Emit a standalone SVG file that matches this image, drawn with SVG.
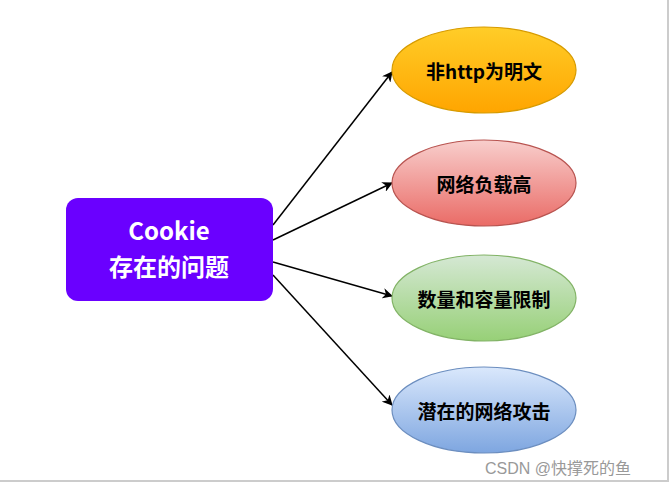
<svg xmlns="http://www.w3.org/2000/svg" width="672" height="485" viewBox="0 0 672 485">
<style>
.t{font-family:"Noto Sans CJK SC","Liberation Sans",sans-serif;font-weight:bold;font-size:19px;text-anchor:middle;dominant-baseline:central;fill:#000}
.c{font-family:"Noto Sans CJK SC","Liberation Sans",sans-serif;font-weight:bold;font-size:24px;text-anchor:middle;fill:#fff}
.e{stroke-width:1.2}
.a{stroke:#000;stroke-width:1.5;fill:none;marker-end:url(#ar)}
</style>
<defs>
<marker id="ar" viewBox="0 0 10 10" refX="9" refY="5" markerWidth="7" markerHeight="7" orient="auto"><path d="M0,0L10,5L0,10L3,5Z" fill="#000"/></marker>
<linearGradient id="g1" x1="0" y1="0" x2="0" y2="1"><stop offset="0" stop-color="#ffcd28"/><stop offset="1" stop-color="#ffa500"/></linearGradient>
<linearGradient id="g2" x1="0" y1="0" x2="0" y2="1"><stop offset="0" stop-color="#f8cecc"/><stop offset="1" stop-color="#ea6b66"/></linearGradient>
<linearGradient id="g3" x1="0" y1="0" x2="0" y2="1"><stop offset="0" stop-color="#d5e8d4"/><stop offset="1" stop-color="#97d077"/></linearGradient>
<linearGradient id="g4" x1="0" y1="0" x2="0" y2="1"><stop offset="0" stop-color="#dae8fc"/><stop offset="1" stop-color="#7ea6e0"/></linearGradient>
</defs>
<rect width="672" height="485" fill="#fff"/>
<path d="M0,481H668V0" fill="none" stroke="#ccc" stroke-width="2"/>
<g id="connectors">
<path class="a" d="M273,225L392,72"/>
<path class="a" d="M273,240L392,183"/>
<path class="a" d="M273,262L392,296"/>
<path class="a" d="M273,275L392,405"/>
</g>
<g id="center"><rect x="66" y="198" width="207" height="103" rx="12" fill="#6a00ff"/>
<text class="c" x="169" y="240">Cookie</text><text class="c" x="169" y="276">存在的问题</text></g>
<g id="n1"><ellipse class="e" cx="484" cy="70" rx="92" ry="43" fill="url(#g1)" stroke="#d79b00"/><text class="t" x="484" y="70">非http为明文</text></g>
<g id="n2"><ellipse class="e" cx="484" cy="183" rx="92" ry="43" fill="url(#g2)" stroke="#b85450"/><text class="t" x="484" y="183">网络负载高</text></g>
<g id="n3"><ellipse class="e" cx="484" cy="298" rx="92" ry="43" fill="url(#g3)" stroke="#82b366"/><text class="t" x="484" y="298">数量和容量限制</text></g>
<g id="n4"><ellipse class="e" cx="484" cy="410" rx="92" ry="43" fill="url(#g4)" stroke="#6c8ebf"/><text class="t" x="484" y="410">潜在的网络攻击</text></g>
<text x="485" y="474" font-family="Liberation Sans,'Noto Sans CJK SC',sans-serif" font-size="16" fill="#999">CSDN @快撑死的鱼</text>
</svg>
